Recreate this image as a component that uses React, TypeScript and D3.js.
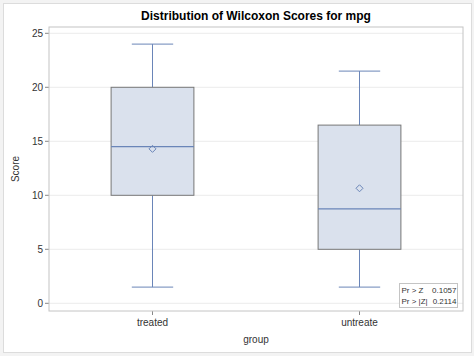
import React from "react";
import * as d3 from "d3";

const groups = ["treated", "untreate"];
const q1 = [10, 5];
const median = [14.5, 8.75];
const q3 = [20, 16.5];
const whiskerLow = [1.5, 1.5];
const whiskerHigh = [24, 21.5];
const means = [14.3, 10.65];
const yTicks = [0, 5, 10, 15, 20, 25];
const insetLabels = ["Pr > Z", "Pr > |Z|"];
const insetValues = ["0.1057", "0.2114"];

const W = 474, H = 356;
const m = { left: 49, right: 463, top: 27, bottom: 311 };
const font = "'Liberation Sans', Arial, sans-serif";

export default function App() {
  const x = d3.scalePoint().domain(groups).range([m.left, m.right]).padding(0.5);
  const y = d3.scaleLinear().domain([0, 25]).range([303.3, 33.3]);
  const boxW = (m.right - m.left) * 0.2;
  const capW = boxW / 2;
  const blue = "#6a85b8";
  return (
    <svg width={W} height={H} style={{ position: "absolute", left: 0, top: 0, background: "#fff" }}>
      <rect x={0} y={0} width={W} height={H} fill="#f3f3f3" />
      <rect x={3.5} y={3.5} width={468} height={349} fill="#fff" stroke="#dcdcdc" />
      <text x={(m.left + m.right) / 2} y={20} textAnchor="middle" fontFamily={font} fontWeight="bold" fontSize={12} fill="#000">
        Distribution of Wilcoxon Scores for mpg
      </text>
      {yTicks.map((t) => (
        <g key={t}>
          <line x1={m.left} x2={m.right} y1={y(t)} y2={y(t)} stroke="#ececec" />
          <line x1={m.left - 4} x2={m.left} y1={y(t)} y2={y(t)} stroke="#888" />
          <text x={m.left - 6} y={y(t) + 3.5} textAnchor="end" fontFamily={font} fontSize={10} fill="#333">{t}</text>
        </g>
      ))}
      {groups.map((g, i) => {
        const cx = x(g)!;
        return (
          <g key={g}>
            <line x1={cx} x2={cx} y1={y(q3[i])} y2={y(whiskerHigh[i])} stroke={blue} />
            <line x1={cx} x2={cx} y1={y(q1[i])} y2={y(whiskerLow[i])} stroke={blue} />
            <line x1={cx - capW / 2} x2={cx + capW / 2} y1={y(whiskerHigh[i])} y2={y(whiskerHigh[i])} stroke={blue} />
            <line x1={cx - capW / 2} x2={cx + capW / 2} y1={y(whiskerLow[i])} y2={y(whiskerLow[i])} stroke={blue} />
            <rect x={cx - boxW / 2} y={y(q3[i])} width={boxW} height={y(q1[i]) - y(q3[i])} fill="#dae1ed" stroke="#777" />
            <line x1={cx - boxW / 2} x2={cx + boxW / 2} y1={y(median[i])} y2={y(median[i])} stroke={blue} strokeWidth={1.2} />
            <path d={`M${cx},${y(means[i]) - 3.5}L${cx + 3.5},${y(means[i])}L${cx},${y(means[i]) + 3.5}L${cx - 3.5},${y(means[i])}Z`} fill="none" stroke={blue} />
            <line x1={cx} x2={cx} y1={m.bottom} y2={m.bottom + 4} stroke="#888" />
            <text x={cx} y={m.bottom + 15} textAnchor="middle" fontFamily={font} fontSize={10} fill="#333">{g}</text>
          </g>
        );
      })}
      <rect x={m.left} y={m.top} width={m.right - m.left} height={m.bottom - m.top} fill="none" stroke="#c4c4c4" />
      <text x={(m.left + m.right) / 2} y={343} textAnchor="middle" fontFamily={font} fontSize={10} fill="#333">group</text>
      <text transform={`translate(19,${(m.top + m.bottom) / 2}) rotate(-90)`} textAnchor="middle" fontFamily={font} fontSize={10} fill="#333">Score</text>
      <rect x={399.5} y={283.5} width={58} height={24} fill="#fff" stroke="#c4c4c4" />
      {insetLabels.map((l, i) => (
        <g key={l}>
          <text x={401.5} y={292.5 + i * 11} fontFamily={font} fontSize={8} fill="#333">{l}</text>
          <text x={456.5} y={292.5 + i * 11} textAnchor="end" fontFamily={font} fontSize={8} fill="#333">{insetValues[i]}</text>
        </g>
      ))}
    </svg>
  );
}
